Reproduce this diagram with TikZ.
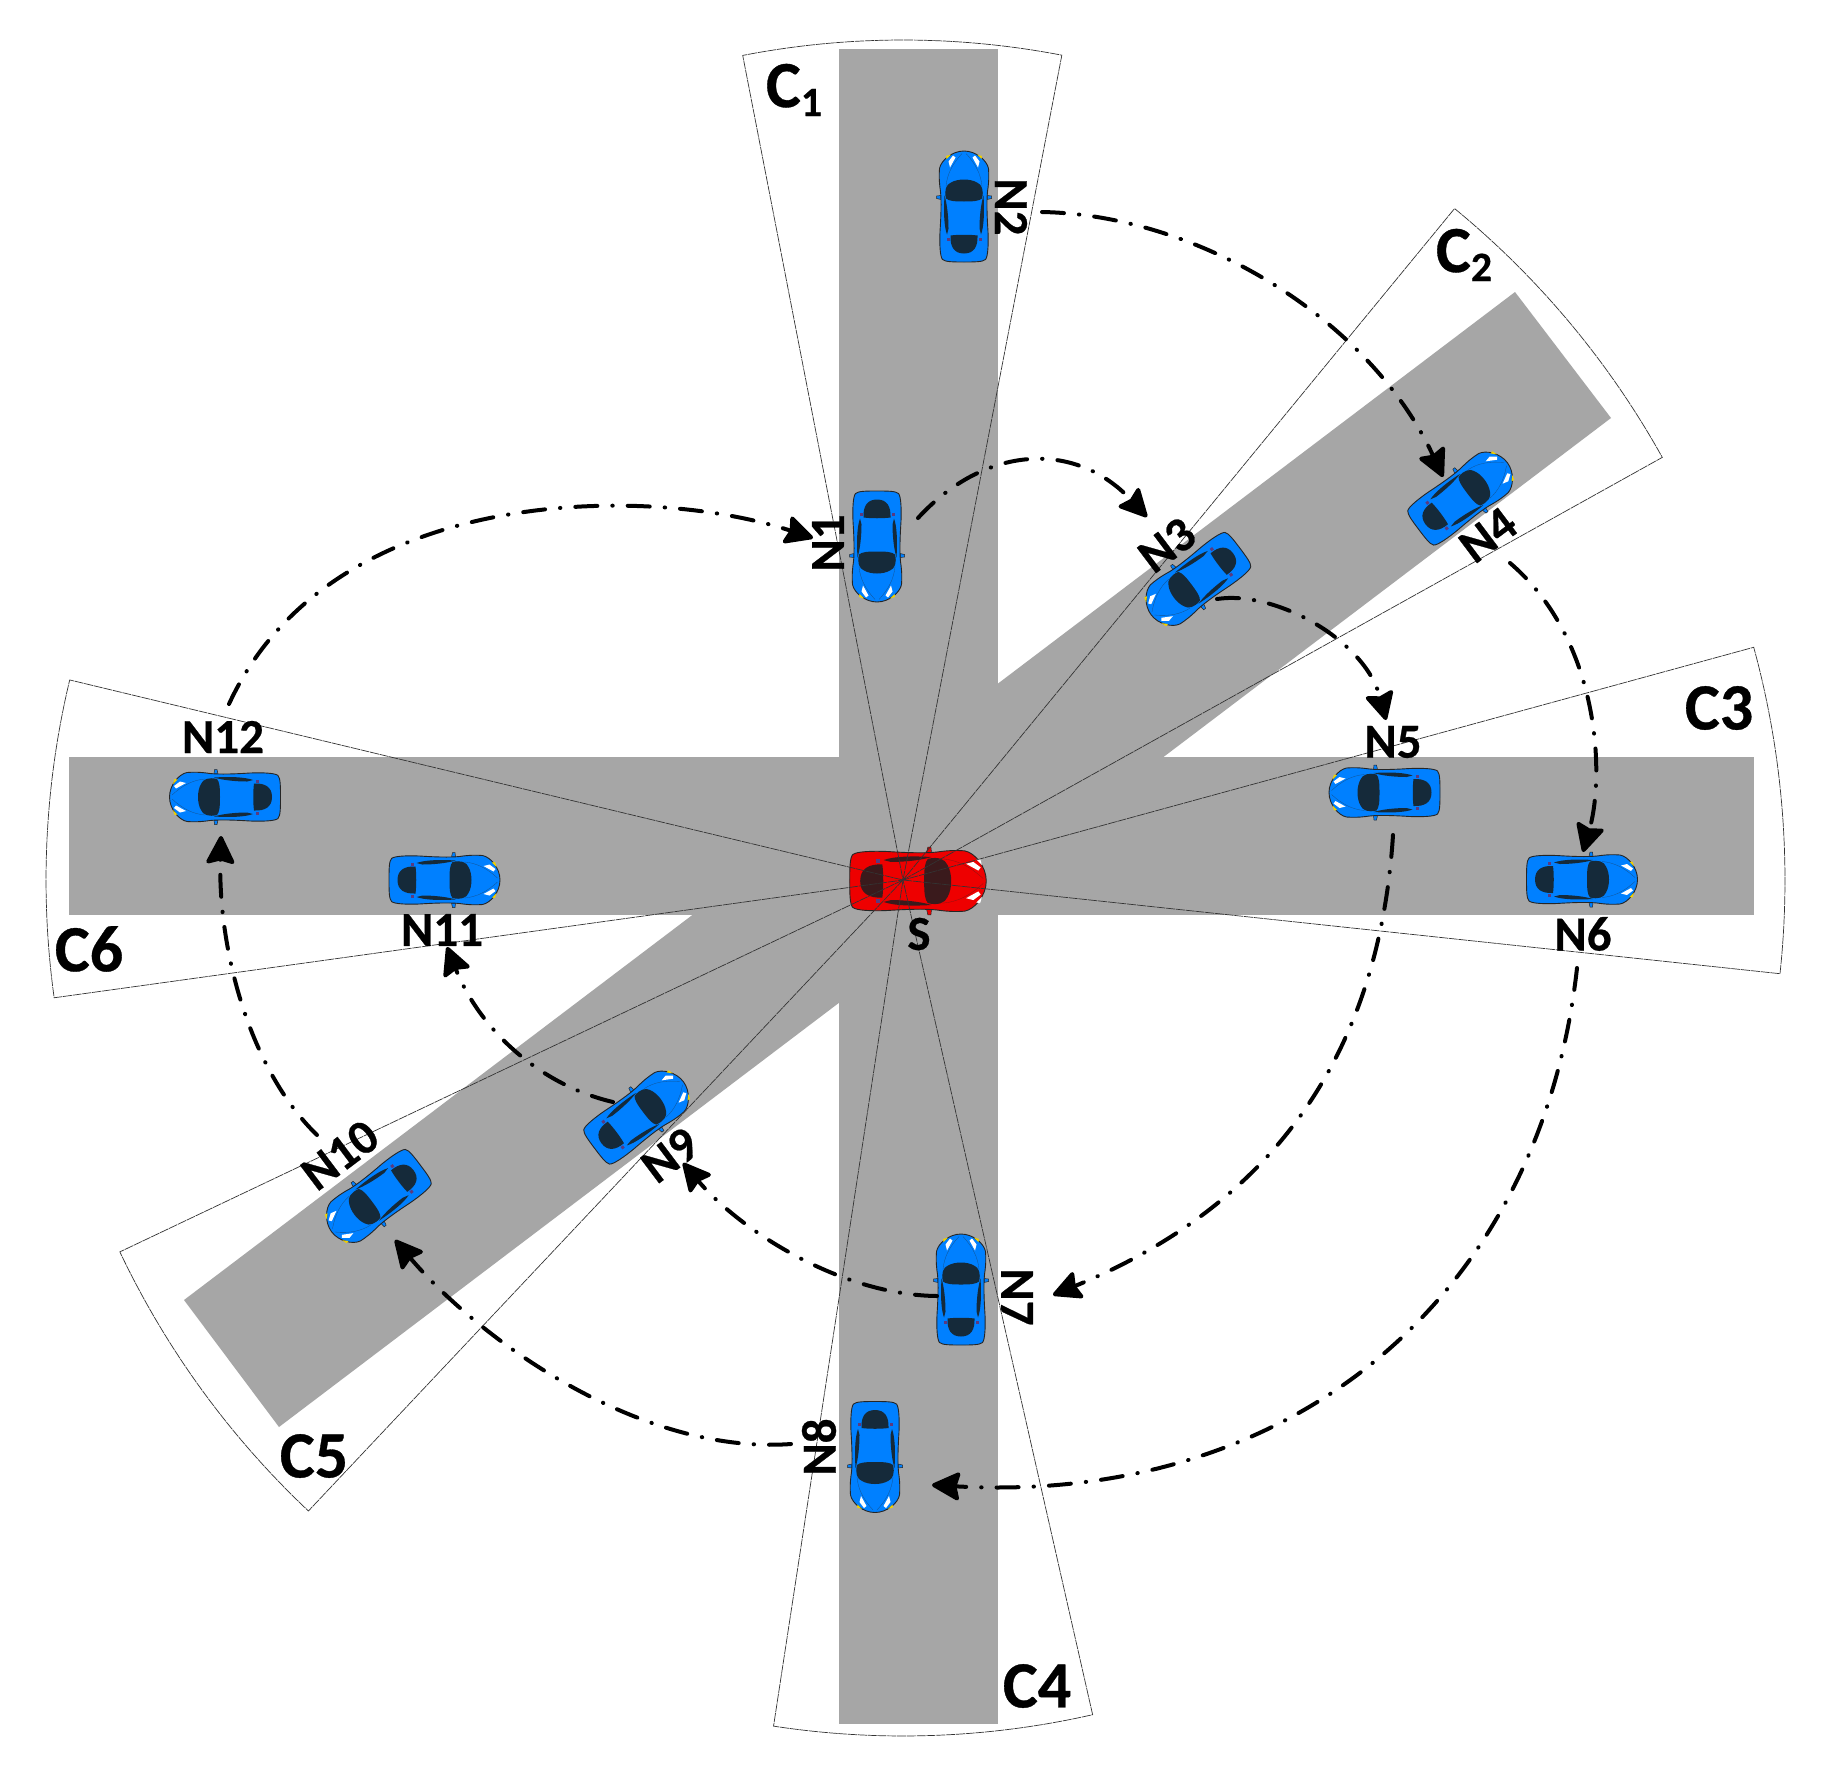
\documentclass[tikz,border=0pt]{standalone}
\usepackage{fontspec}
\setmainfont{Carlito}[BoldFeatures={FakeBold=0.5}]
\usetikzlibrary{arrows.meta,calc}
\definecolor{roadgray}{HTML}{A6A6A6}
\definecolor{carblue}{HTML}{0080FF}
\definecolor{glassblue}{HTML}{152A3A}
\definecolor{carred}{HTML}{EE0000}
\definecolor{glassred}{HTML}{3A1A1C}
\definecolor{lampyellow}{HTML}{F0D000}
\definecolor{tailmark}{HTML}{5A3A80}
\tikzset{
  road/.style={fill=roadgray,draw=none},
  sector/.style={draw=black!80,line width=0.7pt,dash pattern=on 9pt off 0.8pt},
  link/.style={draw=black,line width=4pt,line cap=round,
    dash pattern=on 22pt off 15pt on 0.4pt off 15pt,
    -{Stealth[length=31pt,width=31pt,inset=4pt,round=false]}},
  nlabel/.style={font=\bfseries\fontsize{49}{52}\selectfont,inner sep=0pt,text=black},
  clabel/.style={font=\bfseries\fontsize{66}{70}\selectfont,inner sep=0pt,text=black},
  pics/car/.style n args={4}{code={
    % #1 body, #2 glass, #3 corner lamp, #4 outline
    % mirrors
    \fill[#1,draw=#4,line width=0.5pt] (7,23) -- (11,23) -- (10.5,27.5) -- (8,27.5) -- cycle;
    \fill[#1,draw=#4,line width=0.5pt] (7,-23) -- (11,-23) -- (10.5,-27.5) -- (8,-27.5) -- cycle;
    % body
    \draw[fill=#1,draw=#4,line width=0.9pt]
      (-55.5,0) .. controls (-55.5,-10) and (-55.5,-19) .. (-53,-21.5)
      .. controls (-50,-24) and (-38,-24.5) .. (-25,-24)
      .. controls (-10,-23) and (5,-22.5) .. (15,-23.5)
      .. controls (25,-25) and (32,-25) .. (38,-24.5)
      .. controls (46,-23) and (55.5,-12) .. (55.5,0)
      .. controls (55.5,12) and (46,23) .. (38,24.5)
      .. controls (32,25) and (25,25) .. (15,23.5)
      .. controls (5,22.5) and (-10,23) .. (-25,24)
      .. controls (-38,24.5) and (-50,24) .. (-53,21.5)
      .. controls (-55.5,19) and (-55.5,10) .. (-55.5,0) -- cycle;
    % side windows
    \fill[#2] (-28,17) .. controls (-20,20) and (-5,20.5) .. (11,19.5)
      .. controls (3,17) and (-10,15.5) .. (-22,15.5) -- cycle;
    \fill[#2] (-28,-17) .. controls (-20,-20) and (-5,-20.5) .. (11,-19.5)
      .. controls (3,-17) and (-10,-15.5) .. (-22,-15.5) -- cycle;
    % windscreen
    \fill[#2] (5,0) .. controls (5,-10) and (5.5,-15) .. (8,-18)
      .. controls (16,-20) and (22,-18) .. (24,-13)
      .. controls (28,-6) and (28,6) .. (24,13)
      .. controls (22,18) and (16,20) .. (8,18)
      .. controls (5.5,15) and (5,10) .. (5,0) -- cycle;
    % rear window
    \fill[#2] (-29,-13.5) .. controls (-40,-14) and (-47,-10) .. (-47,0)
      .. controls (-47,10) and (-40,14) .. (-29,13.5)
      .. controls (-28,6) and (-28,-6) .. (-29,-13.5) -- cycle;
    % tail marks
    \fill[tailmark] (-34,14.5) rectangle (-31,17.5);
    \fill[tailmark] (-34,-14.5) rectangle (-31,-17.5);
    % headlights
    \fill[white] (39,14) -- (49,8.5) -- (51,11) -- (45,15.5) -- cycle;
    \fill[white] (39,-14) -- (49,-8.5) -- (51,-11) -- (45,-15.5) -- cycle;
    % corner lamps
    \fill[#3] (47.5,17.5) -- (52,13) -- (50.5,18) -- cycle;
    \fill[#3] (47.5,-17.5) -- (52,-13) -- (50.5,-18) -- cycle;
    % body crease
    \draw[#4,line width=0.3pt,opacity=0.5] (20,18) .. controls (32,17) and (42,12) .. (53,2);
    \draw[#4,line width=0.3pt,opacity=0.5] (20,-18) .. controls (32,-17) and (42,-12) .. (53,-2);
  }}
}
\begin{document}
\begin{tikzpicture}[x=1pt,y=-1pt]
\useasboundingbox (0,0) rectangle (1825,1766);
\fill[white] (0,0) rectangle (1825,1766);

% roads
\fill[road] (839,49) rectangle (998,1724);
\fill[road] (69,757) rectangle (1754,915);
\fill[road] (1515,292) -- (1611,418) -- (279,1427) -- (184,1300) -- cycle;

% cars
\pic (cn1) at (877,546.5) [rotate=-90] {car={carblue}{glassblue}{lampyellow}{black!85}};
\pic (cn2) at (964,206.5) [rotate=90] {car={carblue}{glassblue}{lampyellow}{black!85}};
\pic (cn3) at (1195.5,581.5) [rotate=217] {car={carblue}{glassblue}{lampyellow}{black!85}};
\pic (cn4) at (1463,496) [rotate=37] {car={carblue}{glassblue}{lampyellow}{black!85}};
\pic (cn5) at (1384.5,792.5) [rotate=180] {car={carblue}{glassblue}{lampyellow}{black!85}};
\pic (cn6) at (1582,879.5) {car={carblue}{glassblue}{lampyellow}{black!85}};
\pic (cn7) at (961,1289.5) [rotate=90] {car={carblue}{glassblue}{lampyellow}{black!85}};
\pic (cn8) at (875,1457) [rotate=-90] {car={carblue}{glassblue}{lampyellow}{black!85}};
\pic (cn9) at (639,1115) [rotate=37] {car={carblue}{glassblue}{lampyellow}{black!85}};
\pic (cn10) at (376,1198.5) [rotate=217] {car={carblue}{glassblue}{lampyellow}{black!85}};
\pic (cn11) at (444.5,880) {car={carblue}{glassblue}{lampyellow}{black!85}};
\pic (cn12) at (225,797) [rotate=180] {car={carblue}{glassblue}{lampyellow}{black!85}};
\pic (cs) at (918,881) [scale=1.23] {car={carred}{glassred}{white}{black!85}};

% sectors
\coordinate (apex) at (903,880);
\draw[sector] (apex) -- ++(79.1:840pt) arc[start angle=79.1,end angle=101,radius=840pt] -- cycle;
\draw[sector] (apex) -- ++(29.1:869pt) arc[start angle=29.1,end angle=50.6,radius=869pt] -- cycle;
\draw[sector] (apex) -- ++(-6.1:882pt) arc[start angle=-6.1,end angle=15.3,radius=882pt] -- cycle;
\draw[sector] (apex) -- ++(-98.7:856pt) arc[start angle=-98.7,end angle=-77.2,radius=856pt] -- cycle;
\draw[sector] (apex) -- ++(205.4:867pt) arc[start angle=205.4,end angle=226.7,radius=867pt] -- cycle;
\draw[sector] (apex) -- ++(166.5:857pt) arc[start angle=166.5,end angle=187.9,radius=857pt] -- cycle;

% labels
\node[nlabel,rotate=90] (ln1) at (828,543) {N1};
\node[nlabel,rotate=-90] (ln2) at (1011,207) {N2};
\node[nlabel,rotate=37] (ln3) at (1167,545) {N3};
\node[nlabel,rotate=37] (ln4) at (1488,535) {N4};
\node[nlabel] (ln5) at (1393,742) {N5};
\node[nlabel] (ln6) at (1583,934) {N6};
\node[nlabel,rotate=-90] (ln7) at (1017,1297) {N7};
\node[nlabel,rotate=90] (ln8) at (819,1447) {N8};
\node[nlabel,rotate=37] (ln9) at (670,1155) {N9};
\node[nlabel,rotate=37] (ln10) at (340,1155) {N10};
\node[nlabel] (ln11) at (442,930) {N11};
\node[nlabel] (ln12) at (223,737) {N12};
\node[nlabel] (ls) at (919,934) {S};
\node[clabel] (lc1) at (794,90) {C\raisebox{-9pt}{\fontsize{42}{42}\selectfont 1}};
\node[clabel] (lc2) at (1464,255) {C\raisebox{-9pt}{\fontsize{42}{42}\selectfont 2}};
\node[clabel] (lc3) at (1719,708) {C3};
\node[clabel] (lc4) at (1037,1686) {C4};
\node[clabel] (lc5) at (314,1456) {C5};
\node[clabel] (lc6) at (89,949) {C6};

% connector ends
\coordinate (n1out) at (918,518);   \coordinate (n3in) at (1147,517);
\coordinate (n2out) at (1042,212);  \coordinate (n4in) at (1443,477);
\coordinate (n3out) at (1217,599);  \coordinate (n5in) at (1386,720);
\coordinate (n4out) at (1510,563);  \coordinate (n6in) at (1583,852);
\coordinate (n5out) at (1393,835);  \coordinate (n7in) at (1053,1295);
\coordinate (n6out) at (1577,968);  \coordinate (n8in) at (932,1485);
\coordinate (n7out) at (937,1296);  \coordinate (n9in) at (683,1163);
\coordinate (n8out) at (791,1444);  \coordinate (n10in) at (395,1240);
\coordinate (n9out) at (613,1102);  \coordinate (n11in) at (447,947);
\coordinate (n10out) at (317,1135); \coordinate (n12in) at (221,836);
\coordinate (n12out) at (229,704);  \coordinate (n1in) at (813,538);

% connectors
\draw[link] (n1out) .. controls (985,445) and (1075,440) .. (n3in);
\draw[link] (n2out) .. controls (1200,215) and (1370,320) .. (n4in);
\draw[link] (n3out) .. controls (1275,590) and (1365,640) .. (n5in);
\draw[link] (n4out) .. controls (1600,640) and (1605,775) .. (n6in);
\draw[link] (n5out) .. controls (1380,1040) and (1285,1200) .. (n7in);
\draw[link] (n6out) .. controls (1540,1300) and (1290,1505) .. (n8in);
\draw[link] (n7out) .. controls (840,1295) and (740,1230) .. (n9in);
\draw[link] (n8out) .. controls (640,1455) and (480,1340) .. (n10in);
\draw[link] (n9out) .. controls (540,1085) and (480,1030) .. (n11in);
\draw[link] (n10out) .. controls (250,1070) and (218,950) .. (n12in);
\draw[link] (n12out) .. controls (330,485) and (645,483) .. (n1in);
\end{tikzpicture}
\end{document}
